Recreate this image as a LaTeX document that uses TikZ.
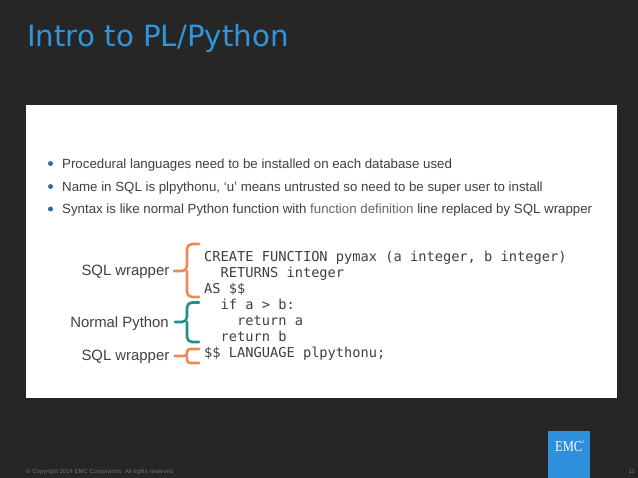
\documentclass[tikz,border=0pt]{standalone}
\usepackage{fontspec}
\setmainfont{Liberation Sans}
\newfontfamily\titlefont{DejaVu Sans}
\newfontfamily\codefont{DejaVu Sans Mono}
\newfontfamily\logofont{Liberation Serif}
\definecolor{bgdark}{HTML}{262626}
\definecolor{titleblue}{HTML}{2F95DC}
\definecolor{logoblue}{HTML}{2E8FDB}
\definecolor{bodygray}{HTML}{404040}
\definecolor{bulletblue}{HTML}{2B6C9E}
\definecolor{bracketorange}{HTML}{EC8A55}
\definecolor{bracketteal}{HTML}{1F9088}
\definecolor{footgray}{HTML}{6E6E6E}
\tikzset{
  x=1pt,y=-1pt,
  bodytext/.style={anchor=base west,inner sep=0pt,text=bodygray,font=\fontsize{13.28}{16}\selectfont},
  bulletmark/.style={circle,fill=bulletblue,inner sep=0pt,minimum size=5pt},
  codeline/.style={anchor=base west,inner sep=0pt,text=bodygray,font=\codefont\fontsize{13.68}{16}\selectfont},
  sidelabel/.style={anchor=base east,inner sep=0pt,text=bodygray,font=\fontsize{14.9}{16}\selectfont},
  bracket/.style={line width=2.6pt,line cap=round,line join=round,rounded corners=5pt},
  foot/.style={anchor=base west,inner sep=0pt,text=footgray,font=\fontsize{6}{7}\selectfont}
}
\begin{document}
\begin{tikzpicture}
\useasboundingbox (0,0) rectangle (638,478);
\fill[bgdark] (0,0) rectangle (638,478);
\node[anchor=base west,inner sep=0pt,text=titleblue,font=\titlefont\fontsize{29.3}{32}\selectfont] (title) at (27,46.5) {Intro to PL/Python};
\fill[white] (26,105) rectangle (617,398);

\node[bulletmark] (b1) at (50.5,163.5) {};
\node[bulletmark] (b2) at (50.5,186.5) {};
\node[bulletmark] (b3) at (50.5,209) {};
\node[bodytext] (t1) at (62,168.5) {Procedural languages need to be installed on each database used};
\node[bodytext] (t2) at (62,191.5) {Name in SQL is plpythonu, ‘u’ means untrusted so need to be super user to install};
\node[bodytext] (t3) at (62,214) {Syntax is like normal Python function with \textcolor{bodygray!80}{function definition} line replaced by SQL wrapper};

\node[codeline] (c1) at (204,262) {CREATE FUNCTION pymax (a integer, b integer)};
\node[codeline] (c2) at (204,278) {\ \ RETURNS integer};
\node[codeline] (c3) at (204,294) {AS \$\$};
\node[codeline] (c4) at (204,310) {\ \ if a > b:};
\node[codeline] (c5) at (204,326) {\ \ \ \ return a};
\node[codeline] (c6) at (204,342) {\ \ return b};
\node[codeline] (c7) at (204,358) {\$\$ LANGUAGE plpythonu;};

\node[sidelabel] (l1) at (169.5,276) {SQL wrapper};
\node[sidelabel] (l2) at (169,327.5) {Normal Python};
\node[sidelabel] (l3) at (169.5,360.5) {SQL wrapper};

\draw[bracket,bracketorange] (199,244) -- (187,244) -- (187,271) -- (174,271);
\draw[bracket,bracketorange] (199,297) -- (187,297) -- (187,271);
\draw[bracket,bracketteal] (199,302.5) -- (187,302.5) -- (187,322) -- (175,322);
\draw[bracket,bracketteal] (199,342) -- (187,342) -- (187,322);
\draw[bracket,bracketorange,rounded corners=3pt] (199,349) -- (187,349) -- (187,356) -- (175,356);
\draw[bracket,bracketorange,rounded corners=3pt] (199,363) -- (187,363) -- (187,356);

\fill[logoblue] (548,431) rectangle (590,478);
\node[anchor=base west,inner sep=0pt,text=white,yscale=1.2,font=\logofont\fontsize{12.5}{14}\selectfont] (logo) at (555,452) {EMC};
\node[anchor=base west,inner sep=0pt,text=white,font=\logofont\fontsize{4.5}{5}\selectfont] (logotwo) at (582,444) {2};

\node[foot] (copy) at (26,473.5) {© Copyright 2014 EMC Corporation. All rights reserved.};
\node[foot,anchor=base east] (page) at (635,473.5) {11};
\end{tikzpicture}
\end{document}
